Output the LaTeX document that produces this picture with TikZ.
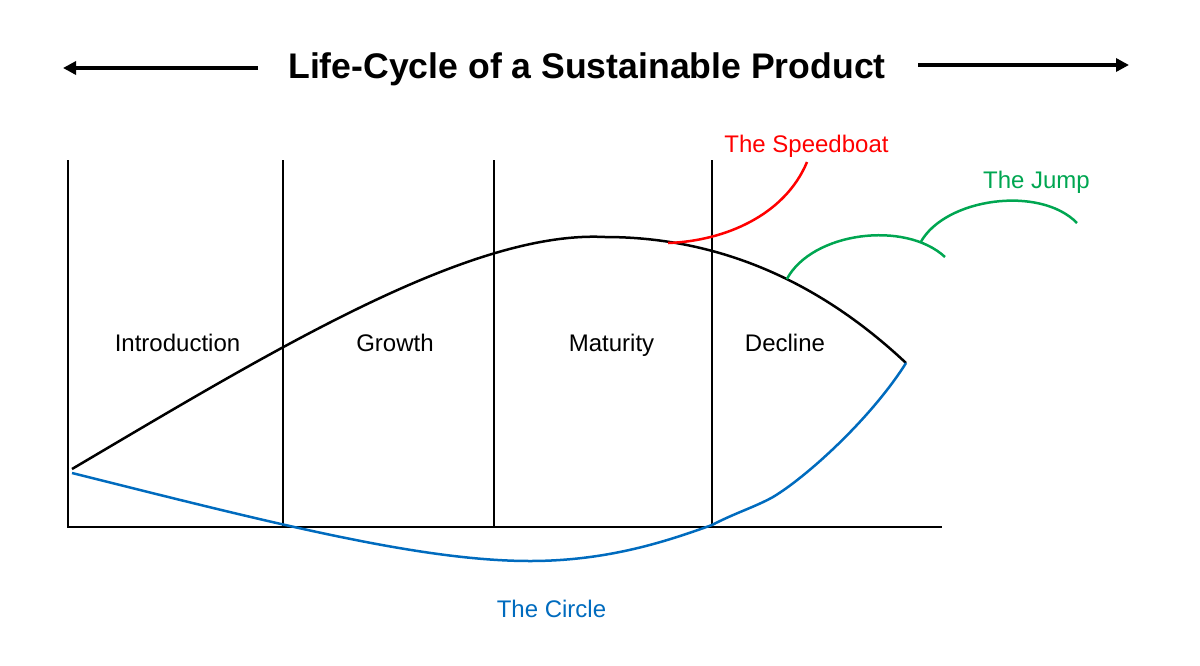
\documentclass[tikz,border=0pt]{standalone}
\usepackage{fontspec}
\setmainfont{Liberation Sans}
\usetikzlibrary{arrows.meta}
\definecolor{boatred}{RGB}{255,0,0}
\definecolor{jumpgreen}{RGB}{0,166,81}
\definecolor{circleblue}{RGB}{0,107,190}
\begin{document}
\begin{tikzpicture}[x=0.5pt,y=-0.5pt,
    stage/.style={font=\fontsize{12}{14}\selectfont,anchor=base},
    frame/.style={line width=1.4pt},
    curve/.style={line width=1.25pt},
    headarrow/.style={line width=2pt,-{Triangle[length=6.5pt,width=6.5pt]}}]
  \useasboundingbox (0,0) rectangle (1200,665);
  \draw
    (587,78) node[anchor=base,font=\bfseries\fontsize{17.8}{20}\selectfont] (title){Life-Cycle of a Sustainable Product}
    (177.5,351) node[stage] (intro){Introduction}
    (395,351) node[stage] (growth){Growth}
    (611.5,351) node[stage] (maturity){Maturity}
    (785,351) node[stage] (decline){Decline}
    (806.5,152) node[stage,text=boatred] (speedboat){The Speedboat}
    (1036.5,188) node[stage,text=jumpgreen] (jump){The Jump}
    (551.5,617) node[stage,text=circleblue] (circle){The Circle};
  \coordinate (lstart) at (258,68);
  \coordinate (ltip) at (63,68);
  \coordinate (rstart) at (918,65);
  \coordinate (rtip) at (1129,65);
  \coordinate (ytop) at (68,160);
  \coordinate (o) at (68,527);
  \coordinate (xend) at (942,527);
  \coordinate (d1top) at (283,160);
  \coordinate (d1bot) at (283,527);
  \coordinate (d2top) at (494,160);
  \coordinate (d2bot) at (494,527);
  \coordinate (d3top) at (712,160);
  \coordinate (d3bot) at (712,527);
  \coordinate (lcstart) at (72,469);
  \coordinate (lcpeak) at (605,237);
  \coordinate (lcend) at (906,363);
  \coordinate (cstart) at (72,473);
  \coordinate (cmin) at (530,561);
  \coordinate (ccross) at (712,525);
  \coordinate (cbend) at (773,497);
  \coordinate (sbstart) at (668,243);
  \coordinate (sbend) at (807,162);
  \coordinate (jump1end) at (945,257);
  \coordinate (jump2end) at (1077,223);
  \begin{scope}[headarrow]
    \draw (lstart) to (ltip);
    \draw (rstart) to (rtip);
  \end{scope}
  \begin{scope}[frame]
    \draw (ytop) -- (o) -- (xend);
    \draw (d1top) -- (d1bot);
    \draw (d2top) -- (d2bot);
    \draw (d3top) -- (d3bot);
  \end{scope}
  \begin{scope}[curve]
    \draw (lcstart) .. controls (272,351) and (470,230) .. (lcpeak)
      .. controls (700,237) and (805,268) .. (lcend) coordinate[pos=0.61] (jumpstart);
    \draw[circleblue] (cstart) .. controls (272,523) and (420,561) .. (cmin)
      .. controls (610,561) and (670,540) .. (ccross)
      .. controls (735,513) and (755,507) .. (cbend)
      .. controls (805,478) and (870,420) .. (lcend);
    \draw[boatred] (sbstart) .. controls (725,241) and (785,215) .. (sbend);
    \draw[jumpgreen] (jumpstart) .. controls (812,232) and (905,220) .. (jump1end) coordinate[pos=0.83] (jumpmid);
    \draw[jumpgreen] (jumpmid) .. controls (945,198) and (1040,185) .. (jump2end);
  \end{scope}
\end{tikzpicture}
\end{document}
